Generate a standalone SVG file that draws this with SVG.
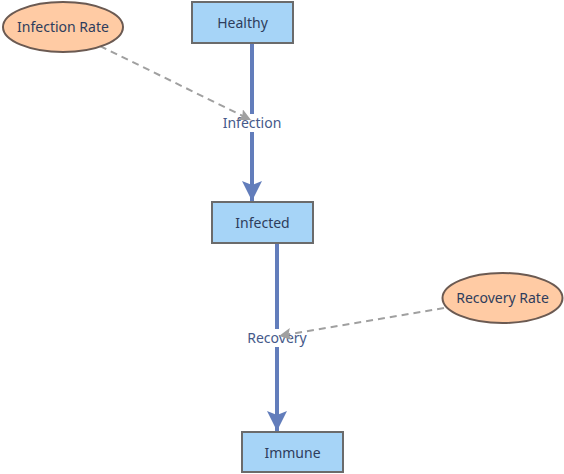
<svg xmlns="http://www.w3.org/2000/svg" width="564" height="474" viewBox="0 0 564 474">
<style>
.stock{fill:#a6d4f7;stroke:#6b6b6b;stroke-width:2}
.aux{fill:#ffcba4;stroke:#6b5a52;stroke-width:2}
.t{font-family:"Comic Sans MS","Noto Sans","DejaVu Sans",sans-serif;font-size:14px;fill:#2e3d5c;text-anchor:middle}
.flow{stroke:#627dbb;stroke-width:4;fill:none}
.link{stroke:#a0a0a0;stroke-width:2;stroke-dasharray:7 5;fill:none}
.lbl{font-family:"Comic Sans MS","Noto Sans","DejaVu Sans",sans-serif;font-size:14px;fill:#45598a;text-anchor:middle}
</style>
<defs>
<marker id="fa" viewBox="0 0 10 10" refX="10" refY="5" markerWidth="5" markerHeight="5" orient="auto" markerUnits="strokeWidth">
<path d="M0,0 L10,5 L0,10 L2,5 z" fill="#627dbb"/>
</marker>
<marker id="la" viewBox="0 0 10 10" refX="10" refY="5" markerWidth="6" markerHeight="6" orient="auto" markerUnits="strokeWidth">
<path d="M0,0 L10,5 L0,10 L2,5 z" fill="#a0a0a0"/>
</marker>
</defs>
<g id="connectors">
<line class="flow" x1="252" y1="43" x2="252" y2="201" marker-end="url(#fa)"/>
<line class="flow" x1="277" y1="243" x2="277" y2="431" marker-end="url(#fa)"/>
<rect x="220" y="114" width="65" height="18" fill="#fff"/>
<text class="lbl" x="252" y="128">Infection</text>
<rect x="246" y="329" width="63" height="18" fill="#fff"/>
<text class="lbl" x="277" y="343">Recovery</text>
<line class="link" x1="100" y1="46" x2="251" y2="120" marker-end="url(#la)"/>
<line class="link" x1="444" y1="308" x2="279" y2="336" marker-end="url(#la)"/>
</g>
<g id="healthy">
<rect class="stock" x="192" y="2" width="101" height="41"/>
<text class="t" x="242.5" y="27.5">Healthy</text>
</g>
<g id="infected">
<rect class="stock" x="212" y="202" width="101" height="41"/>
<text class="t" x="262.5" y="227.5">Infected</text>
</g>
<g id="immune">
<rect class="stock" x="242" y="432" width="101" height="40"/>
<text class="t" x="292.5" y="457.5">Immune</text>
</g>
<g id="infection-rate">
<ellipse class="aux" cx="63" cy="27" rx="60" ry="25"/>
<text class="t" x="63" y="32">Infection Rate</text>
</g>
<g id="recovery-rate">
<ellipse class="aux" cx="502.5" cy="298" rx="60" ry="25"/>
<text class="t" x="502.5" y="303">Recovery Rate</text>
</g>
</svg>
